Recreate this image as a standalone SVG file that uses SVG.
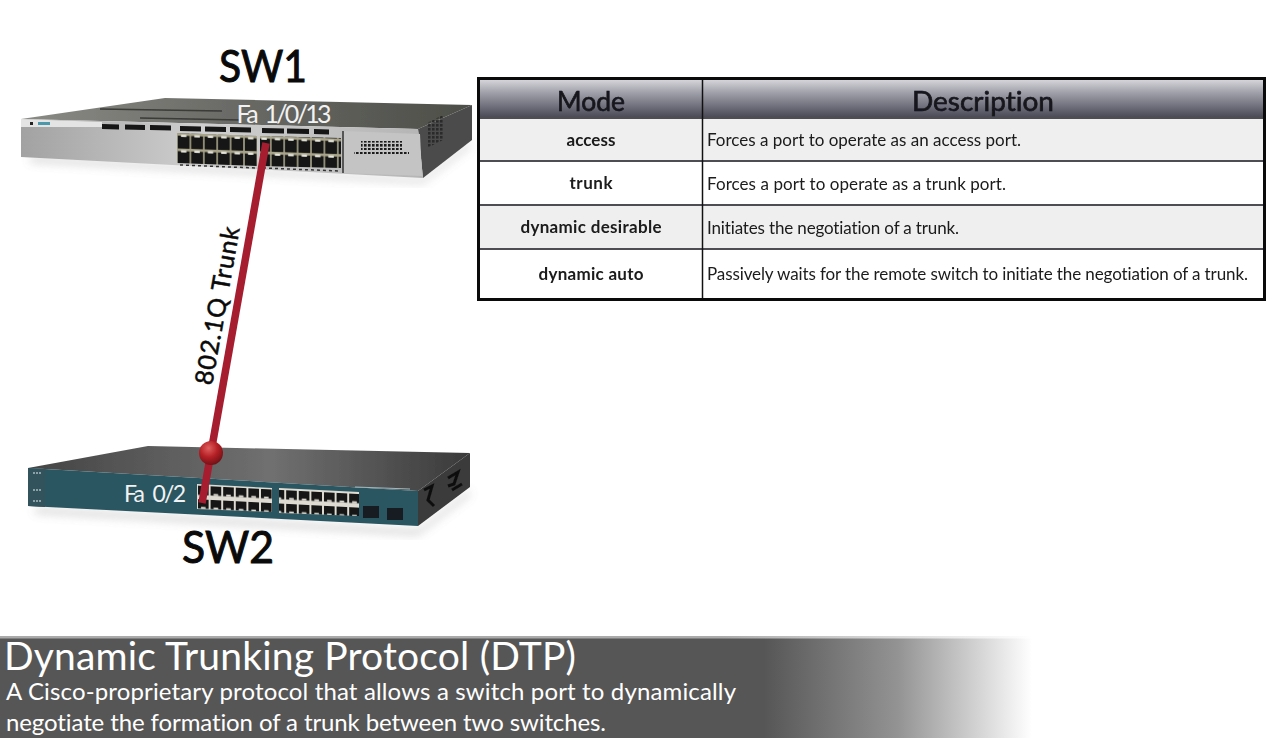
<svg xmlns="http://www.w3.org/2000/svg" width="1280" height="738" viewBox="0 0 1280 738">
<style>
text{font-family:"Lato","Noto Sans","Liberation Sans",sans-serif;font-variant-ligatures:none}
.big{font-size:45px;fill:#0a0a0a;stroke:#0a0a0a;stroke-width:1;text-anchor:middle}
.port{font-size:25px;fill:#f2f2f2;text-anchor:middle;word-spacing:5px}
.hd{font-size:26px;fill:#15151c;stroke:#15151c;stroke-width:.6;text-anchor:middle}
.mode{font-size:17px;fill:#1a1a1a;font-weight:700;text-anchor:middle}
.desc{font-size:17px;fill:#1a1a1a}
.ban{fill:#fff}
.rl{stroke:#4e4e52;stroke-width:2;fill:none}
</style>
<defs>
<linearGradient id="hg" x1="0" y1="0" x2="0" y2="1"><stop offset="0" stop-color="#d8d8dc"/><stop offset=".35" stop-color="#a0a0aa"/><stop offset="1" stop-color="#474755"/></linearGradient>
<linearGradient id="bg" x1="0" y1="0" x2="1" y2="0"><stop offset="0" stop-color="#565656"/><stop offset=".74" stop-color="#565656"/><stop offset=".87" stop-color="#939393"/><stop offset="1" stop-color="#fff"/></linearGradient>
<linearGradient id="bt" x1="0" y1="0" x2="1" y2="0"><stop offset="0" stop-color="#aaa"/><stop offset=".7" stop-color="#aaa"/><stop offset="1" stop-color="#fff"/></linearGradient>
<linearGradient id="top1" x1="0" y1="0" x2="1" y2="0"><stop offset="0" stop-color="#8b8b86"/><stop offset=".5" stop-color="#686864"/><stop offset="1" stop-color="#4d4e48"/></linearGradient>
<linearGradient id="top2" x1="0" y1="0" x2="1" y2="0"><stop offset="0" stop-color="#444"/><stop offset=".55" stop-color="#707070"/><stop offset="1" stop-color="#3a3a3a"/></linearGradient>
<linearGradient id="face1" x1="0" y1="0" x2="1" y2="0"><stop offset="0" stop-color="#a2a2a2"/><stop offset=".45" stop-color="#cfcfcf"/><stop offset="1" stop-color="#b5b5b5"/></linearGradient>
<radialGradient id="ball" cx=".4" cy=".3" r=".75"><stop offset="0" stop-color="#e0605f"/><stop offset=".5" stop-color="#b42025"/><stop offset="1" stop-color="#6a0f14"/></radialGradient>
<filter id="soft" x="-5%" y="-5%" width="110%" height="110%"><feGaussianBlur stdDeviation=".6"/></filter>
<filter id="sh" x="-10%" y="-50%" width="120%" height="200%"><feGaussianBlur stdDeviation="5"/></filter>
<filter id="tb"><feGaussianBlur stdDeviation=".3"/></filter>
<pattern id="p1" width="13.4" height="15.5" patternUnits="userSpaceOnUse" patternTransform="translate(177 134) skewY(2)"><rect width="13.4" height="15.5" fill="#a8a48a"/><rect x=".8" y="1.6" width="11.8" height="12.8" fill="#121212"/><rect x="4" y="0.6" width="5.4" height="2.2" fill="#e8e8e0"/></pattern>
<pattern id="p2" width="12.6" height="13.6" patternUnits="userSpaceOnUse" patternTransform="translate(197 484.6) skewY(3)"><rect width="12.6" height="13.6" fill="#dedcd2"/><rect x="1" y="1" width="10.6" height="9.2" fill="#121212"/><rect x="4" y="8.4" width="4.6" height="2" fill="#dedcd2"/></pattern>
<pattern id="vent" width="4" height="4" patternUnits="userSpaceOnUse"><rect width="2.6" height="2.6" fill="#1b1b1b"/></pattern>
</defs>

<g id="SW1" filter="url(#soft)">
<path d="M30 157L423 179L470 142L470 147L423 183L30 162Z" fill="#888" opacity=".4" filter="url(#sh)"/>
<polygon points="21,119 165,98 472,105 418,129" fill="url(#top1)"/>
<polygon points="418,129 472,105 472,140 423,178" fill="#4b4b4b"/>
<polygon points="21,119 418,129 423,178 21,157" fill="url(#face1)"/>
<polygon points="21,119 102,122 102,127 21,127" fill="#e4e4e4"/>
<path d="M102 124l17 .4v5l-17-.4zM125 124.5l20 .4v5l-20-.4zM150 125l21 .4v5l-21-.4zM180 126l21 .4v5l-21-.4zM205 126.5l21 .4v5l-21-.4zM230 127l21 .4v5l-21-.4zM262 128l22 .4v5l-22-.4zM287 128.5l22 .4v5l-22-.4zM314 129l15 .4v5l-15-.4z" fill="#141414"/>
<rect x="30" y="122" width="3" height="3" fill="#222"/><rect x="38" y="122" width="12" height="3" fill="#4b98ac"/>
<path d="M100 109l122 2" stroke="#3a3a38" stroke-width="1.5"/><path d="M140 118l100 2" stroke="#3a3a38" stroke-width="1.5"/>
<polygon points="177,133 257,136 257,166 177,163" fill="url(#p1)"/>
<polygon points="260,136 341,138 341,168 260,166" fill="url(#p1)"/>
<path d="M180 165l76 3M263 168l77 3" stroke="#333" stroke-width="1.5" stroke-dasharray="3 3"/>
<polygon points="343,131 420,134 422,176 343,173" fill="#c4c4c4"/>
<path d="M343 131v42" stroke="#333" stroke-width="1.5"/>
<rect x="361" y="141" width="41" height="9" fill="url(#vent)"/><rect x="354" y="151" width="55" height="3" fill="url(#vent)"/>
<polygon points="427,123 443,115 443,140 427,148" fill="url(#vent)" opacity=".7"/>
</g>
<text class="big" x="263" y="82" textLength="88" lengthAdjust="spacingAndGlyphs">SW1</text>
<text class="port" x="284" y="123" textLength="95" lengthAdjust="spacing">Fa 1/0/13</text>

<g id="SW2" filter="url(#soft)">
<path d="M35 508L418 530L470 490L470 495L418 535L35 513Z" fill="#888" opacity=".4" filter="url(#sh)"/>
<polygon points="28,468 148,446 470,453 418,491" fill="url(#top2)"/>
<polygon points="418,491 470,453 470,487 418,526" fill="#3a3a3a"/>
<polygon points="28,468 418,491 418,526 28,506" fill="#2c5662"/>
<polygon points="28,468 45,469 45,507 28,506" fill="#33525b"/>
<path d="M33 473h8M33 490h8M33 501h8" stroke="#a8bcc2" stroke-width="1.5" stroke-dasharray="2 1"/>
<polygon points="197,484 272,488 272,512 197,509" fill="url(#p2)"/>
<polygon points="279,488 359,492 359,516 279,513" fill="url(#p2)"/>
<rect x="363" y="506" width="16" height="12" fill="#141e22"/><rect x="387" y="508" width="16" height="12" fill="#141e22"/>
<path d="M355 487l55 2" stroke="#9fb8c0" stroke-width="1.2"/>
<path d="M424 490l8 -4l-4 14l6 6M448 478l10 -6l-4 12l-6 2M452 490l10 -6" stroke="#111" stroke-width="3" fill="none"/>
</g>
<text class="port" x="155" y="502" textLength="62" lengthAdjust="spacing" style="font-size:23px">Fa 0/2</text>
<text class="big" x="228" y="563" textLength="92" lengthAdjust="spacingAndGlyphs">SW2</text>

<g id="connectors">
<line x1="266" y1="143" x2="202" y2="503" stroke="#a51d2f" stroke-width="7.5"/>
<circle cx="211" cy="453" r="12" fill="url(#ball)"/>
</g>
<text transform="translate(212 386) rotate(-80)" font-size="25" fill="#0a0a0a" stroke="#0a0a0a" stroke-width=".5" textLength="160" lengthAdjust="spacing">802.1Q Trunk</text>

<g id="table">
<rect x="479" y="79" width="785" height="220" fill="#fff"/>
<rect x="479" y="79" width="785" height="39" fill="url(#hg)"/>
<rect x="479" y="118" width="785" height="43" fill="#efefef"/>
<rect x="479" y="205" width="785" height="44" fill="#efefef"/>
<path class="rl" d="M479 118H1264M479 161H1264M479 205H1264M479 249H1264"/>
<path d="M702.5 79V299" stroke="#111" stroke-width="1.5"/>
<rect x="478.5" y="78.5" width="786" height="221" fill="none" stroke="#0a0a0a" stroke-width="3"/>
<g filter="url(#tb)">
<text class="hd" x="591" y="111" textLength="68" lengthAdjust="spacingAndGlyphs">Mode</text>
<text class="hd" x="983" y="111" textLength="142" lengthAdjust="spacingAndGlyphs">Description</text>
<text class="mode" x="591" y="146" textLength="49">access</text>
<text class="mode" x="591" y="189" textLength="43">trunk</text>
<text class="mode" x="591" y="233" textLength="141">dynamic desirable</text>
<text class="mode" x="591" y="280" textLength="105">dynamic auto</text>
<text class="desc" x="707" y="146" textLength="314">Forces a port to operate as an access port.</text>
<text class="desc" x="707" y="190" textLength="299">Forces a port to operate as a trunk port.</text>
<text class="desc" x="707" y="234" textLength="252">Initiates the negotiation of a trunk.</text>
<text class="desc" x="707" y="280" textLength="541">Passively waits for the remote switch to initiate the negotiation of a trunk.</text>
</g>
</g>

<g id="banner">
<rect x="0" y="637" width="1032" height="101" fill="url(#bg)"/>
<rect x="0" y="636" width="1032" height="2.5" fill="url(#bt)"/>
<text class="ban" x="4" y="670" font-size="39" textLength="572" lengthAdjust="spacing">Dynamic Trunking Protocol (DTP)</text>
<text class="ban" x="6" y="700" font-size="24" textLength="730" lengthAdjust="spacing">A Cisco-proprietary protocol that allows a switch port to dynamically</text>
<text class="ban" x="6" y="731" font-size="24" textLength="600" lengthAdjust="spacing">negotiate the formation of a trunk between two switches.</text>
</g>
</svg>
